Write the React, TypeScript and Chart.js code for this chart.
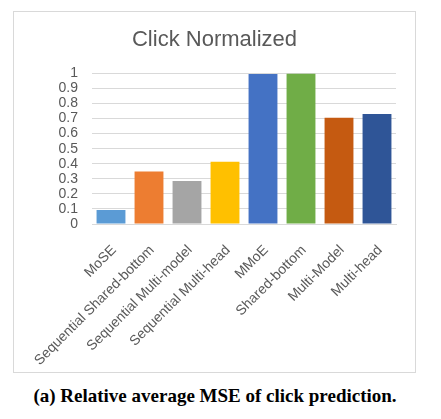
import React, { useEffect, useRef } from "react";
import { Chart, registerables } from "chart.js";

Chart.register(...registerables);

const categories = [
	"MoSE",
	"Sequential Shared-bottom",
	"Sequential Multi-model",
	"Sequential Multi-head",
	"MMoE",
	"Shared-bottom",
	"Multi-Model",
	"Multi-head",
];
const clickValues = [0.093, 0.348, 0.286, 0.414, 0.996, 1.0, 0.705, 0.731];
const barColors = [
	"#5B9BD5",
	"#ED7D31",
	"#A5A5A5",
	"#FFC000",
	"#4472C4",
	"#70AD47",
	"#C55A11",
	"#2F5597",
];
const yTicks = [0, 0.1, 0.2, 0.3, 0.4, 0.5, 0.6, 0.7, 0.8, 0.9, 1];

const textColor = "#595959";
const gridColor = "#D9D9D9";

const ClickChart: React.FC = () => {
	const chartRef = useRef<HTMLCanvasElement>(null);
	const chartInstanceRef = useRef<Chart>();

	useEffect(() => {
		if (!chartRef.current) return;
		if (chartInstanceRef.current) chartInstanceRef.current.destroy();

		chartInstanceRef.current = new Chart(chartRef.current, {
			type: "bar",
			data: {
				labels: categories,
				datasets: [
					{
						data: clickValues,
						backgroundColor: barColors,
						borderWidth: 0,
						barPercentage: 0.76,
						categoryPercentage: 1,
					},
				],
			},
			options: {
				animation: false,
				responsive: false,
				layout: { padding: 0 },
				plugins: {
					legend: { display: false },
					tooltip: { enabled: false },
					title: {
						display: true,
						text: "Click Normalized",
						color: textColor,
						font: { family: "Liberation Sans", size: 22, weight: "normal" },
						padding: { top: 15, bottom: 20 },
					},
				},
				scales: {
					x: {
						grid: { display: false },
						border: { display: true, color: gridColor },
						ticks: {
							color: textColor,
							font: { family: "Liberation Sans", size: 14 },
							minRotation: 45,
							maxRotation: 45,
							padding: 10,
							labelOffset: 3,
						},
						afterFit: (scale: any) => {
							scale.height = 148;
						},
					},
					y: {
						min: 0,
						max: 1,
						afterBuildTicks: (scale: any) => {
							scale.ticks = yTicks.map((v) => ({ value: v }));
						},
						grid: { color: gridColor, drawTicks: false },
						border: { display: false },
						ticks: {
							color: textColor,
							font: { family: "Liberation Sans", size: 14 },
							padding: 14,
							autoSkip: false,
							callback: (v: any) => String(Number(Number(v).toFixed(1))),
						},
						afterFit: (scale: any) => {
							scale.width = 78;
						},
					},
					pad: {
						position: "right",
						display: true,
						grid: { display: false },
						border: { display: false },
						ticks: { display: false },
						afterFit: (scale: any) => {
							scale.width = 19;
						},
					},
				},
			},
		});

		return () => {
			if (chartInstanceRef.current) chartInstanceRef.current.destroy();
		};
	}, []);

	return (
		<div style={{ position: "absolute", left: 0, top: 0, width: 441, height: 419, background: "white" }}>
			<div
				style={{
					position: "absolute",
					left: 13,
					top: 11,
					width: 401,
					height: 360,
					border: "1px solid #D9D9D9",
				}}
			>
				<canvas ref={chartRef} width={401} height={360} style={{ display: "block" }} />
			</div>
			<div
				style={{
					position: "absolute",
					left: 0,
					width: 430,
					top: 385,
					textAlign: "center",
					fontFamily: "Liberation Serif",
					fontWeight: "bold",
					fontSize: 19,
					color: "#000",
				}}
			>
				(a) Relative average MSE of click prediction.
			</div>
		</div>
	);
};

export default function App() {
	return <ClickChart />;
}
